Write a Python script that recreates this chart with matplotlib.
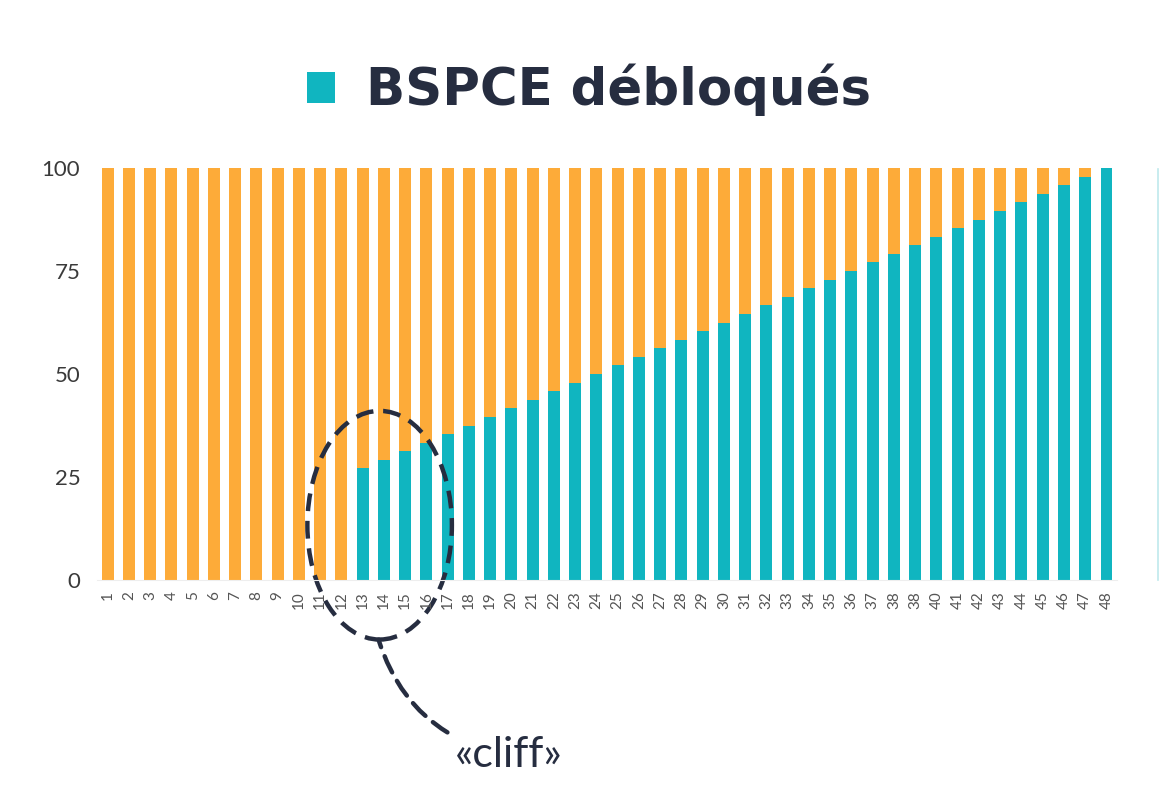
import numpy as np
import matplotlib.pyplot as plt
from matplotlib.patches import Ellipse

# mois (libellés tels qu'affichés, "38" est répété dans l'original)
months = ["1", "2", "3", "4", "5", "6", "7", "8", "9", "10", "11", "12",
          "13", "14", "15", "16", "17", "18", "19", "20", "21", "22", "23", "24",
          "25", "26", "27", "28", "29", "30", "31", "32", "33", "34", "35", "36",
          "37", "38", "38", "40", "41", "42", "43", "44", "45", "46", "47", "48"]

# % de BSPCE débloqués
unlocked = [0, 0, 0, 0, 0, 0, 0, 0, 0, 0, 0, 0,
            27.1, 29.2, 31.3, 33.3, 35.4, 37.5, 39.6, 41.7, 43.8, 45.8, 47.9, 50.0,
            52.1, 54.2, 56.3, 58.3, 60.4, 62.5, 64.6, 66.7, 68.8, 70.8, 72.9, 75.0,
            77.1, 79.2, 81.3, 83.3, 85.4, 87.5, 89.6, 91.7, 93.8, 95.8, 97.9, 100.0]
locked = [100 - v for v in unlocked]

teal = "#10b5c0"
orange = "#fdab39"
navy = "#262d40"

plt.rcParams['font.family'] = ['Lato', 'DejaVu Sans']

fig = plt.figure(figsize=(11.6, 8.05), dpi=100)
ax = fig.add_axes([0.0836, 0.2795, 0.8794, 0.5118])

x = np.arange(len(months))
bars_u = ax.bar(x, unlocked, width=0.56, color=teal, label="BSPCE débloqués")
ax.bar(x, locked, width=0.56, bottom=unlocked, color=orange)

ax.set_xlim(-0.5, len(months) - 0.5)
ax.set_ylim(0, 100)
ax.set_yticks([0, 25, 50, 75, 100])
ax.set_yticklabels(["0", "25", "50", "75", "100"], fontsize=16, color="#3a3a3a")
ax.set_xticks(x)
ax.set_xticklabels(months, rotation=90, fontsize=11, color="#555555")
ax.tick_params(axis='both', length=0)
ax.tick_params(axis='y', pad=12)
ax.tick_params(axis='x', pad=8)
for s in ["top", "right", "left"]:
    ax.spines[s].set_visible(False)
ax.spines["bottom"].set_color("#eeeeee")

# titre façon légende
fig.legend(handles=[bars_u], labels=["BSPCE débloqués"], loc="center",
           bbox_to_anchor=(0.508, 0.888), frameon=False,
           prop={'family': 'DejaVu Sans', 'weight': 'bold', 'size': 37},
           labelcolor=navy, handlelength=0.55, handleheight=0.55,
           handletextpad=0.6)

# ellipse "cliff"
ell = Ellipse((12.8, 13.3), 6.8, 55.5, fill=False, edgecolor=navy, lw=3.2,
              linestyle=(0, (4, 2.2)), clip_on=False)
ax.add_patch(ell)

ax.annotate("«cliff»", xy=(12.75, -14.5), xycoords='data',
            xytext=(455, 50), textcoords='figure pixels',
            fontsize=31, color=navy, va='center', ha='left',
            annotation_clip=False,
            arrowprops=dict(arrowstyle='-', color=navy, lw=3.2,
                            linestyle=(0, (4, 2.2)),
                            connectionstyle="arc3,rad=-0.3",
                            shrinkA=4, shrinkB=0))

# fine ligne à droite
fig.add_artist(plt.Line2D([0.9985, 0.9985], [0.28, 0.79], color="#bfe9ec", lw=1.2))

fig.savefig("out.png", dpi=100)
